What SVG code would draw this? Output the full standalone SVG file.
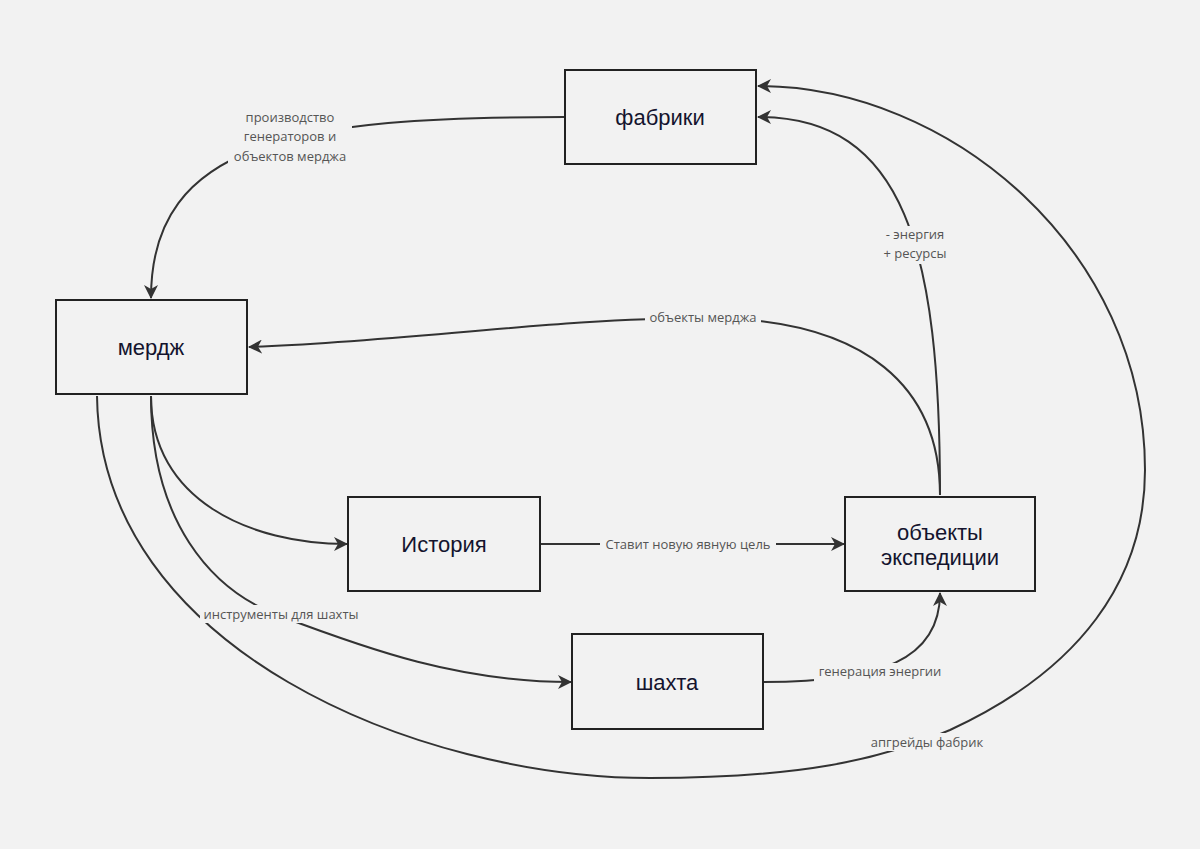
<svg xmlns="http://www.w3.org/2000/svg" width="1200" height="849" viewBox="0 0 1200 849">
<defs>
<marker id="arr" markerUnits="userSpaceOnUse" markerWidth="16" markerHeight="14" refX="13" refY="7" orient="auto">
<path d="M0,0 L14,7 L0,14 L4,7 z" fill="#333"/>
</marker>
<style>
.node rect{fill:#f2f2f2;stroke:#222;stroke-width:2}
.node text{font-family:"Liberation Sans",Arial,sans-serif;font-size:22px;fill:#14142e;text-anchor:middle}
.edges path{fill:none;stroke:#333;stroke-width:2}
.lbl rect{fill:#f2f2f2}
.lbl text{font-family:"Open Sans","Noto Sans",sans-serif;font-size:13px;fill:#555;text-anchor:middle}
</style>
</defs>
<rect width="1200" height="849" fill="#f2f2f2"/>
<g class="edges">
<path d="M564,117 C300,117 151,140 151,298" marker-end="url(#arr)"/>
<path d="M940,495 C940,390 870,318 703,318 C560,318 400,342 249,347" marker-end="url(#arr)"/>
<path d="M940,495 C940,250 905,117 758,117" marker-end="url(#arr)"/>
<path d="M97,396 C100,650 420,778 650,778 C800,778 880,760 950,730 C1080,670 1145,580 1145,470 C1145,250 950,86 758,86" marker-end="url(#arr)"/>
<path d="M151,396 C151,500 250,544 347,544" marker-end="url(#arr)"/>
<path d="M151,396 C151,520 210,590 280,616 C370,650 460,682 571,682" marker-end="url(#arr)"/>
<path d="M541,544 L844,544" marker-end="url(#arr)"/>
<path d="M764,682 C880,682 940,660 940,593" marker-end="url(#arr)"/>
</g>
<g class="lbl">
<rect x="228" y="106" width="124" height="58"/>
<text x="290" y="122">производство</text>
<text x="290" y="141">генераторов и</text>
<text x="290" y="161">объектов мерджа</text>
<rect x="645" y="309" width="116" height="18"/>
<text x="703" y="322">объекты мерджа</text>
<rect x="876" y="226" width="78" height="38"/>
<text x="915" y="239">- энергия</text>
<text x="915" y="258">+ ресурсы</text>
<rect x="600" y="535" width="176" height="18"/>
<text x="688" y="549">Ставит новую явную цель</text>
<rect x="200" y="605" width="162" height="18"/>
<text x="281" y="619">инструменты для шахты</text>
<rect x="814" y="663" width="132" height="18"/>
<text x="880" y="676">генерация энергии</text>
<rect x="866" y="733" width="122" height="18"/>
<text x="927" y="747">апгрейды фабрик</text>
</g>
<g id="node-fabriki" class="node"><rect x="565" y="70" width="191" height="94"/><text x="660" y="125">фабрики</text></g>
<g id="node-merdzh" class="node"><rect x="56" y="300" width="191" height="94"/><text x="151" y="355">мердж</text></g>
<g id="node-istoriya" class="node"><rect x="348" y="497" width="192" height="94"/><text x="444" y="552">История</text></g>
<g id="node-obekty" class="node"><rect x="845" y="497" width="190" height="94"/><text x="940" y="540">объекты</text><text x="940" y="565">экспедиции</text></g>
<g id="node-shakhta" class="node"><rect x="572" y="634" width="191" height="95"/><text x="667" y="690">шахта</text></g>
</svg>
